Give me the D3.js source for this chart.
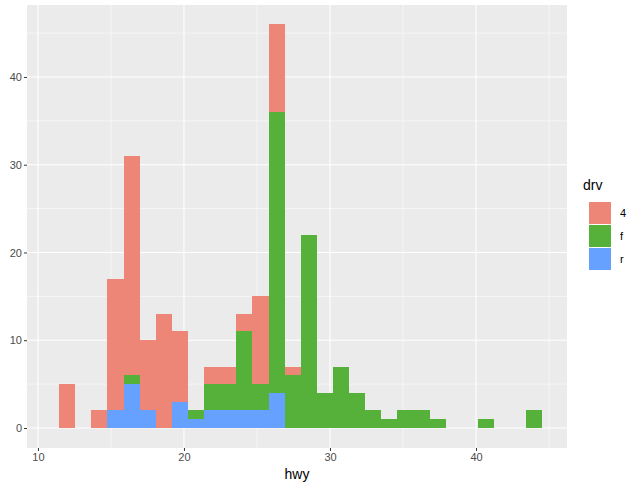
<!DOCTYPE html>
<html><head><meta charset="utf-8">
<script src="https://cdn.jsdelivr.net/npm/d3@7"></script>
<style>body{margin:0;background:#fff}text{font-family:"Liberation Sans",Arial,sans-serif}</style>
</head><body>
<svg id="c" width="636" height="485"></svg>
<script>
// bin centers from 12 to 44, 30 bins
const binCount = 30
const binStart = 12, binEnd = 44
const series = ['r', 'f', '4'] // bottom to top
const legendOrder = ['4', 'f', 'r']
const colors = { '4': '#ED8677', f: '#55B13A', r: '#66A1FF' }
const countsR = [0,0,0,2,5,2,0,3,1,2,2,2,2,4,0,0,0,0,0,0,0,0,0,0,0,0,0,0,0,0]
const countsF = [0,0,0,0,1,0,0,0,1,3,3,9,3,32,6,22,4,7,4,2,1,2,2,1,0,0,1,0,0,2]
const counts4 = [5,0,2,15,25,8,13,8,0,2,2,2,10,10,1,0,0,0,0,0,0,0,0,0,0,0,0,0,0,0]
const xTicks = [10, 20, 30, 40]
const yTicks = [0, 10, 20, 30, 40]

const svg = d3.select('#c')
const L = 27, R = 567, T = 5, B = 448
const x = d3.scaleLinear().domain([9.25, 46.23]).range([L, R])
const y = d3.scaleLinear().domain([-2.28, 48.2]).range([B, T])
const bw = (binEnd - binStart) / (binCount - 1)

svg.append('rect').attr('x', L).attr('y', T).attr('width', R - L).attr('height', B - T).attr('fill', '#EBEBEB')
const g = svg.append('g')
;[15, 25, 35, 45].forEach(v => g.append('line').attr('x1', x(v)).attr('x2', x(v)).attr('y1', T).attr('y2', B).attr('stroke', '#fff').attr('stroke-width', 0.55))
;[5, 15, 25, 35, 45].forEach(v => g.append('line').attr('y1', y(v)).attr('y2', y(v)).attr('x1', L).attr('x2', R).attr('stroke', '#fff').attr('stroke-width', 0.55))
xTicks.forEach(v => g.append('line').attr('x1', x(v)).attr('x2', x(v)).attr('y1', T).attr('y2', B).attr('stroke', '#fff').attr('stroke-width', 1.1))
yTicks.forEach(v => g.append('line').attr('y1', y(v)).attr('y2', y(v)).attr('x1', L).attr('x2', R).attr('stroke', '#fff').attr('stroke-width', 1.1))

const data = d3.range(binCount).map(i => ({ i, r: countsR[i], f: countsF[i], '4': counts4[i] }))
const stacked = d3.stack().keys(series)(data)
stacked.forEach(layer => {
  svg.append('g').selectAll('rect').data(layer).join('rect')
    .attr('x', d => x(binStart + (d.data.i - 0.5) * bw))
    .attr('width', x(bw) - x(0))
    .attr('y', d => y(d[1]))
    .attr('height', d => y(d[0]) - y(d[1]))
    .attr('fill', colors[layer.key])
    .attr('shape-rendering', 'crispEdges')
})

svg.append('g').attr('transform', `translate(0,${B})`)
  .call(d3.axisBottom(x).tickValues(xTicks).tickSize(3).tickPadding(2))
  .call(a => a.select('.domain').remove())
  .call(a => a.selectAll('line').attr('stroke', '#333'))
  .call(a => a.selectAll('text').attr('fill', '#4D4D4D').attr('font-size', 11))
svg.append('g').attr('transform', `translate(${L},0)`)
  .call(d3.axisLeft(y).tickValues(yTicks).tickSize(3).tickPadding(2))
  .call(a => a.select('.domain').remove())
  .call(a => a.selectAll('line').attr('stroke', '#333'))
  .call(a => a.selectAll('text').attr('fill', '#4D4D4D').attr('font-size', 11))

svg.append('text').attr('x', (L + R) / 2).attr('y', 479).attr('text-anchor', 'middle').attr('font-size', 14).text('hwy')

const lg = svg.append('g').attr('transform', 'translate(583,0)')
lg.append('text').attr('x', 0).attr('y', 190).attr('font-size', 14).text('drv')
legendOrder.forEach((k, j) => {
  lg.append('rect').attr('x', 6).attr('y', 202 + j * 23).attr('width', 22).attr('height', 22).attr('fill', colors[k])
  lg.append('text').attr('x', 37).attr('y', 217 + j * 23).attr('font-size', 11).text(k)
})
</script>
</body></html>
